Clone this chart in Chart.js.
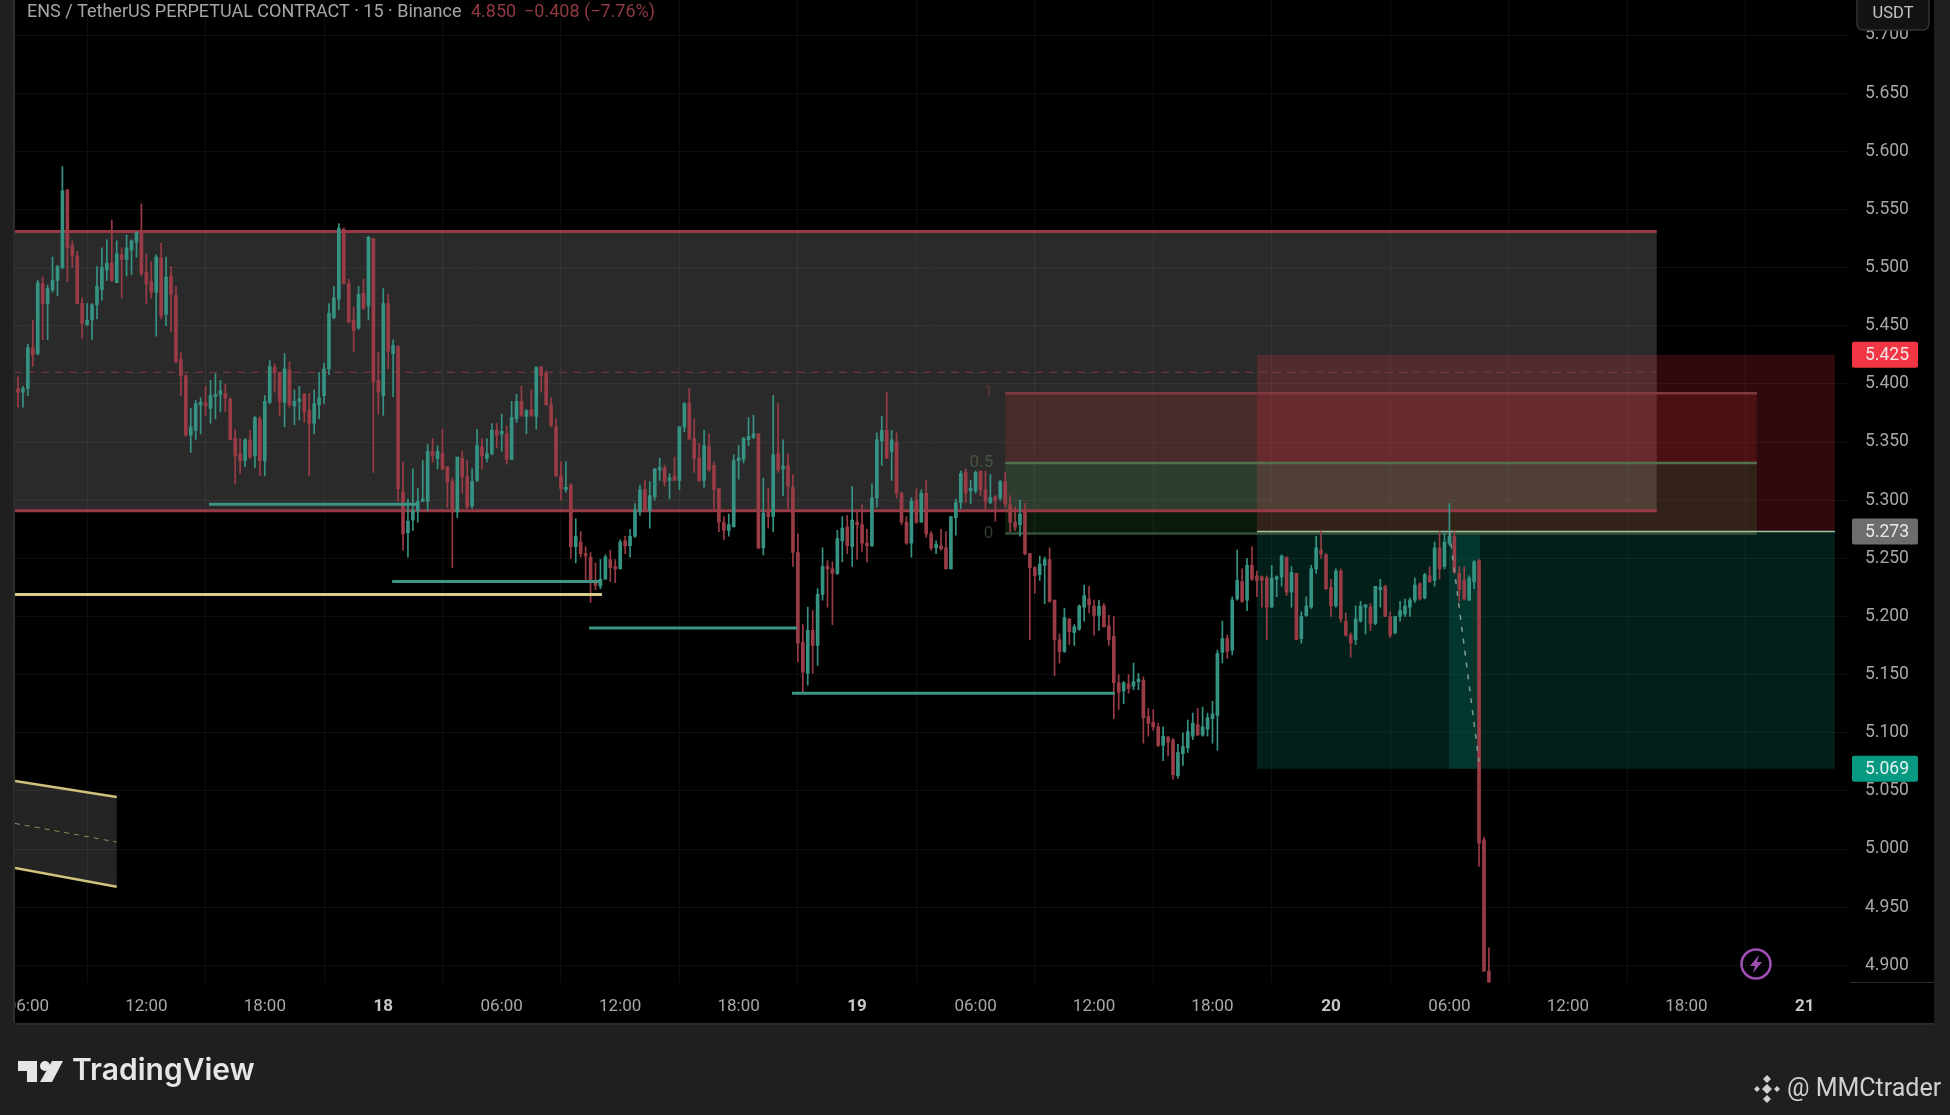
<!DOCTYPE html>
<html>
    <head>
        <meta charset="utf-8">
        <title>ENS / TetherUS PERPETUAL CONTRACT</title>
        <script src="https://cdn.jsdelivr.net/npm/chart.js"></script>
        <style>
            html, body { margin: 0; padding: 0; background: #1f1f1f; overflow: hidden; }
            canvas { display: block; }
        </style>
    </head>
    <body>
        <canvas id="chart" width="1950" height="1115"></canvas>
        <script>
            // 15 minute candles, bar 0 is 05:30 on the 17th
            const opens = [
                5.396,5.393,5.396,5.431,5.426,5.486,5.469,5.481,5.489,5.500,
                5.567,5.519,5.510,5.469,5.451,5.455,5.468,5.481,5.498,5.504,
                5.487,5.511,5.507,5.515,5.522,5.530,5.496,5.488,5.479,5.508,
                5.460,5.493,5.476,5.421,5.407,5.356,5.360,5.382,5.384,5.379,
                5.389,5.391,5.392,5.387,5.353,5.340,5.334,5.352,5.338,5.370,
                5.334,5.384,5.414,5.410,5.384,5.412,5.381,5.385,5.391,5.377,
                5.366,5.382,5.390,5.413,5.457,5.473,5.533,5.486,5.455,5.448,
                5.478,5.467,5.525,5.403,5.390,5.469,5.426,5.432,5.307,5.272,
                5.283,5.291,5.299,5.299,5.342,5.336,5.340,5.329,5.316,5.290,
                5.336,5.320,5.295,5.317,5.346,5.336,5.340,5.360,5.357,5.357,
                5.335,5.370,5.385,5.372,5.378,5.372,5.415,5.409,5.382,5.363,
                5.321,5.309,5.313,5.260,5.264,5.254,5.251,5.230,5.226,5.232,
                5.249,5.243,5.241,5.265,5.261,5.269,5.290,5.309,5.291,5.303,
                5.326,5.328,5.317,5.321,5.317,5.363,5.383,5.353,5.336,5.317,
                5.346,5.330,5.310,5.281,5.274,5.277,5.334,5.335,5.352,5.354,
                5.357,5.259,5.290,5.286,5.340,5.327,5.330,5.311,5.255,5.178,
                5.151,5.188,5.175,5.219,5.243,5.241,5.237,5.265,5.277,5.260,
                5.281,5.279,5.263,5.261,5.302,5.351,5.360,5.342,5.350,5.306,
                5.281,5.263,5.300,5.281,5.306,5.271,5.259,5.261,5.259,5.241,
                5.285,5.298,5.324,5.308,5.308,5.325,5.309,5.298,5.303,5.302,
                5.316,5.296,5.281,5.279,5.290,5.254,5.242,5.236,5.244,5.249,
                5.214,5.180,5.170,5.198,5.186,5.189,5.208,5.215,5.209,5.201,
                5.209,5.192,5.183,5.143,5.136,5.142,5.140,5.144,5.145,5.114,
                5.109,5.105,5.089,5.096,5.094,5.063,5.082,5.087,5.097,5.107,
                5.098,5.103,5.112,5.115,5.169,5.181,5.171,5.215,5.230,5.214,
                5.244,5.235,5.234,5.233,5.208,5.232,5.234,5.251,5.221,5.237,
                5.181,5.201,5.208,5.241,5.257,5.253,5.225,5.209,5.239,5.196,
                5.184,5.180,5.196,5.208,5.208,5.194,5.223,5.226,5.200,5.186,
                5.200,5.202,5.208,5.214,5.228,5.216,5.235,5.231,5.259,5.243,
                5.263,5.269,5.237,5.231,5.214,5.230,5.248,5.008,4.895
            ];
            const closes = [
                5.393,5.396,5.431,5.425,5.487,5.469,5.482,5.489,5.501,5.566,
                5.517,5.510,5.469,5.452,5.455,5.468,5.484,5.500,5.504,5.489,
                5.512,5.507,5.517,5.523,5.530,5.495,5.486,5.479,5.509,5.459,
                5.492,5.477,5.419,5.407,5.356,5.363,5.383,5.384,5.381,5.390,
                5.390,5.394,5.388,5.352,5.338,5.334,5.352,5.337,5.371,5.334,
                5.385,5.415,5.410,5.385,5.413,5.382,5.385,5.386,5.376,5.366,
                5.383,5.388,5.413,5.461,5.474,5.534,5.486,5.453,5.446,5.477,
                5.465,5.526,5.402,5.393,5.469,5.428,5.433,5.310,5.271,5.282,
                5.291,5.299,5.300,5.342,5.338,5.342,5.327,5.316,5.290,5.337,
                5.320,5.294,5.316,5.347,5.338,5.340,5.360,5.356,5.357,5.335,
                5.371,5.385,5.373,5.377,5.373,5.414,5.407,5.382,5.364,5.321,
                5.310,5.311,5.260,5.269,5.254,5.252,5.229,5.227,5.232,5.251,
                5.242,5.241,5.264,5.261,5.269,5.292,5.309,5.292,5.304,5.327,
                5.327,5.316,5.319,5.317,5.363,5.383,5.353,5.336,5.317,5.347,
                5.326,5.309,5.281,5.274,5.279,5.334,5.336,5.353,5.355,5.357,
                5.259,5.289,5.286,5.339,5.326,5.329,5.312,5.255,5.177,5.152,
                5.188,5.175,5.219,5.243,5.241,5.237,5.267,5.276,5.261,5.283,
                5.279,5.263,5.261,5.302,5.352,5.360,5.336,5.352,5.306,5.281,
                5.263,5.299,5.281,5.306,5.271,5.259,5.262,5.258,5.241,5.286,
                5.298,5.323,5.306,5.309,5.324,5.309,5.299,5.302,5.300,5.316,
                5.297,5.281,5.277,5.288,5.254,5.242,5.235,5.245,5.249,5.213,
                5.180,5.170,5.199,5.187,5.191,5.209,5.218,5.210,5.201,5.209,
                5.191,5.180,5.143,5.135,5.143,5.138,5.144,5.145,5.113,5.108,
                5.105,5.089,5.097,5.092,5.064,5.083,5.088,5.101,5.108,5.098,
                5.105,5.113,5.116,5.168,5.181,5.170,5.214,5.231,5.213,5.244,
                5.232,5.231,5.231,5.208,5.233,5.234,5.252,5.221,5.238,5.180,
                5.200,5.209,5.241,5.259,5.254,5.224,5.209,5.239,5.198,5.184,
                5.177,5.198,5.209,5.208,5.194,5.226,5.225,5.200,5.184,5.200,
                5.205,5.209,5.214,5.227,5.215,5.236,5.230,5.259,5.241,5.264,
                5.269,5.238,5.223,5.215,5.233,5.247,5.005,4.895,4.850
            ];
            const highs = [
                5.406,5.398,5.434,5.455,5.489,5.492,5.485,5.509,5.502,5.587,
                5.567,5.523,5.514,5.474,5.469,5.469,5.501,5.517,5.524,5.541,
                5.523,5.517,5.528,5.524,5.531,5.555,5.512,5.505,5.511,5.521,
                5.509,5.501,5.484,5.427,5.408,5.379,5.386,5.388,5.398,5.403,
                5.409,5.403,5.400,5.388,5.361,5.353,5.353,5.360,5.372,5.372,
                5.390,5.420,5.417,5.410,5.426,5.419,5.395,5.398,5.392,5.392,
                5.395,5.410,5.418,5.469,5.484,5.538,5.534,5.490,5.466,5.484,
                5.490,5.527,5.525,5.427,5.482,5.477,5.438,5.433,5.333,5.301,
                5.327,5.310,5.334,5.348,5.353,5.347,5.361,5.329,5.319,5.337,
                5.342,5.334,5.327,5.361,5.353,5.353,5.366,5.366,5.374,5.364,
                5.385,5.391,5.398,5.378,5.395,5.415,5.415,5.411,5.388,5.370,
                5.333,5.333,5.314,5.284,5.273,5.260,5.255,5.246,5.249,5.253,
                5.257,5.249,5.266,5.269,5.275,5.297,5.313,5.317,5.316,5.327,
                5.336,5.330,5.323,5.337,5.363,5.384,5.396,5.370,5.349,5.360,
                5.357,5.333,5.310,5.286,5.288,5.339,5.347,5.354,5.371,5.373,
                5.357,5.319,5.310,5.390,5.383,5.352,5.340,5.322,5.271,5.193,
                5.208,5.205,5.224,5.259,5.248,5.247,5.274,5.286,5.287,5.312,
                5.292,5.296,5.275,5.314,5.358,5.372,5.393,5.360,5.358,5.307,
                5.286,5.302,5.310,5.309,5.317,5.273,5.265,5.275,5.273,5.286,
                5.301,5.325,5.327,5.317,5.325,5.325,5.325,5.322,5.304,5.317,
                5.324,5.304,5.294,5.300,5.297,5.254,5.243,5.252,5.251,5.259,
                5.214,5.185,5.207,5.198,5.193,5.210,5.227,5.226,5.214,5.214,
                5.211,5.201,5.200,5.150,5.144,5.150,5.160,5.151,5.148,5.121,
                5.120,5.108,5.105,5.097,5.095,5.090,5.100,5.111,5.117,5.121,
                5.122,5.117,5.127,5.171,5.196,5.184,5.217,5.257,5.241,5.250,
                5.260,5.239,5.235,5.235,5.244,5.235,5.253,5.251,5.243,5.237,
                5.204,5.217,5.244,5.269,5.274,5.254,5.232,5.241,5.241,5.203,
                5.186,5.209,5.213,5.208,5.211,5.226,5.232,5.227,5.204,5.200,
                5.213,5.215,5.216,5.233,5.229,5.237,5.243,5.264,5.273,5.273,
                5.297,5.273,5.243,5.243,5.235,5.248,5.249,5.010,4.915
            ];
            const lows = [
                5.380,5.380,5.390,5.415,5.425,5.438,5.438,5.479,5.476,5.499,
                5.488,5.500,5.469,5.439,5.450,5.438,5.456,5.472,5.489,5.488,
                5.487,5.474,5.493,5.494,5.509,5.493,5.469,5.474,5.441,5.456,
                5.450,5.445,5.418,5.390,5.355,5.341,5.352,5.357,5.373,5.366,
                5.370,5.376,5.376,5.352,5.314,5.323,5.329,5.336,5.328,5.321,
                5.321,5.383,5.393,5.373,5.363,5.380,5.365,5.369,5.367,5.321,
                5.357,5.370,5.383,5.408,5.456,5.464,5.486,5.453,5.428,5.447,
                5.464,5.455,5.324,5.374,5.373,5.413,5.389,5.299,5.257,5.251,
                5.274,5.281,5.299,5.291,5.333,5.327,5.326,5.294,5.242,5.285,
                5.306,5.293,5.293,5.316,5.327,5.333,5.339,5.345,5.342,5.331,
                5.335,5.367,5.372,5.357,5.372,5.361,5.393,5.382,5.363,5.320,
                5.300,5.307,5.250,5.246,5.251,5.231,5.212,5.223,5.224,5.232,
                5.230,5.229,5.241,5.254,5.251,5.268,5.287,5.290,5.276,5.300,
                5.317,5.312,5.301,5.317,5.309,5.359,5.352,5.324,5.316,5.311,
                5.325,5.291,5.273,5.266,5.269,5.277,5.318,5.332,5.347,5.353,
                5.258,5.253,5.276,5.273,5.324,5.304,5.293,5.243,5.161,5.134,
                5.141,5.151,5.158,5.214,5.208,5.193,5.236,5.247,5.254,5.243,
                5.249,5.256,5.247,5.260,5.294,5.330,5.336,5.317,5.302,5.279,
                5.262,5.251,5.280,5.281,5.268,5.257,5.254,5.257,5.241,5.241,
                5.270,5.293,5.298,5.297,5.306,5.304,5.292,5.297,5.282,5.300,
                5.294,5.273,5.274,5.269,5.253,5.180,5.220,5.231,5.211,5.212,
                5.149,5.160,5.169,5.176,5.175,5.188,5.196,5.203,5.184,5.188,
                5.191,5.175,5.112,5.120,5.125,5.134,5.137,5.137,5.091,5.097,
                5.102,5.088,5.076,5.080,5.060,5.061,5.072,5.083,5.094,5.098,
                5.097,5.097,5.091,5.085,5.160,5.164,5.167,5.214,5.212,5.205,
                5.231,5.217,5.208,5.180,5.208,5.217,5.226,5.218,5.208,5.180,
                5.177,5.200,5.207,5.237,5.250,5.223,5.200,5.208,5.195,5.183,
                5.165,5.176,5.195,5.185,5.188,5.193,5.208,5.200,5.182,5.185,
                5.196,5.200,5.200,5.212,5.214,5.215,5.229,5.226,5.232,5.241,
                5.261,5.237,5.213,5.214,5.214,5.224,4.985,4.895,4.850
            ];

            const xTicks = [2, 26, 50, 74, 98, 122, 146, 170, 194, 218, 242, 266, 290, 314, 338, 362];
            const xTickLabels = ['06:00', '12:00', '18:00', '18', '06:00', '12:00', '18:00', '19', '06:00', '12:00', '18:00', '20', '06:00', '12:00', '18:00', '21'];
            const yTicks = [4.9, 4.95, 5.0, 5.05, 5.1, 5.15, 5.2, 5.25, 5.3, 5.35, 5.4, 5.45, 5.5, 5.55, 5.6, 5.65, 5.7];

            // drawings on the chart, in bars and prices
            const rangeZone = [-1, 332, 5.531, 5.291];
            const rangeMidPrice = 5.410;
            const fibZone = [200, 352.3, 5.392, 5.332, 5.2713];
            const positionZone = [251, 368.1, 5.425, 5.273, 5.069];
            const tradeZone = [289.9, 296.2];
            const tradePath = [[290, 5.273], [296, 5.075]];
            const yellowLine = [-1, 118.3, 5.219];
            const tealLevels = [[38.7, 80.8, 5.2965], [75.8, 118.3, 5.2301], [115.7, 157.8, 5.190], [156.8, 222.2, 5.134]];
            const channelTop = [[-0.6, 5.0585], [20, 5.0447]];
            const channelMid = [[-0.6, 5.022], [20, 5.006]];
            const channelBottom = [[-0.6, 4.9837], [20, 4.9675]];
            const priceTags = [[5.425, '#f23645', '#f4e6e6'], [5.273, '#6d6d6d', '#e8e8e8'], [5.069, '#089981', '#e4f4f0']];

            const GREEN = '#369384';
            const RED = '#9a3c46';
            const barColors = closes.map((c, i) => c >= opens[i] ? GREEN : RED);
            const isDayTick = i => (xTickLabels[i] || '').length === 2;

            // chart area has to reach the edges, labels may stick out
            function noScalePadding(scale) {
                scale.paddingLeft = 0;
                scale.paddingRight = 0;
                scale.paddingTop = 0;
                scale.paddingBottom = 0;
            }

            function box(ctx, x, y, fromBar, toBar, top, bottom, color) {
                ctx.fillStyle = color;
                ctx.fillRect(x.getPixelForValue(fromBar), y.getPixelForValue(top),
                    x.getPixelForValue(toBar) - x.getPixelForValue(fromBar),
                    y.getPixelForValue(bottom) - y.getPixelForValue(top));
            }

            function line(ctx, x, y, p0, p1, color, width, dash) {
                ctx.strokeStyle = color;
                ctx.lineWidth = width;
                ctx.setLineDash(dash || []);
                ctx.beginPath();
                ctx.moveTo(x.getPixelForValue(p0[0]), y.getPixelForValue(p0[1]));
                ctx.lineTo(x.getPixelForValue(p1[0]), y.getPixelForValue(p1[1]));
                ctx.stroke();
                ctx.setLineDash([]);
            }

            const drawings = {
                id: 'drawings',
                beforeDraw(chart) {
                    const ctx = chart.ctx;
                    ctx.fillStyle = '#1f1f1f';
                    ctx.fillRect(0, 0, 1950, 1115);
                    ctx.fillStyle = '#000000';
                    ctx.fillRect(15, 0, 1919, 1023);
                },
                beforeDatasetsDraw(chart) {
                    const ctx = chart.ctx;
                    const x = chart.scales.x;
                    const y = chart.scales.y;
                    const a = chart.chartArea;
                    ctx.save();
                    ctx.beginPath();
                    ctx.rect(a.left, a.top, a.right - a.left, a.bottom - a.top);
                    ctx.clip();

                    // range box
                    box(ctx, x, y, rangeZone[0], rangeZone[1], rangeZone[2], rangeZone[3], 'rgba(255,255,255,0.165)');

                    // short position
                    const [pFrom, pTo, pStop, pEntry, pTarget] = positionZone;
                    box(ctx, x, y, pFrom, pTo, pStop, pEntry, 'rgba(242,54,69,0.19)');
                    box(ctx, x, y, pFrom, pTo, pEntry, pTarget, 'rgba(8,153,129,0.2)');
                    box(ctx, x, y, tradeZone[0], tradeZone[1], pEntry, pTarget, 'rgba(8,153,129,0.2)');

                    // fib box
                    const [fFrom, fTo, f1, f05, f0] = fibZone;
                    box(ctx, x, y, fFrom, fTo, f1, f05, 'rgba(200,42,44,0.19)');
                    box(ctx, x, y, fFrom, fTo, f05, f0, 'rgba(76,175,80,0.15)');
                    line(ctx, x, y, [fFrom, f1], [fTo, f1], '#7e3a40', 2.5);
                    line(ctx, x, y, [fFrom, f05], [fTo, f05], '#55704c', 2.5);
                    line(ctx, x, y, [fFrom, f0], [fTo, f0], '#36503a', 2.5);

                    // range lines
                    line(ctx, x, y, [rangeZone[0], rangeZone[2]], [rangeZone[1], rangeZone[2]], '#983a46', 3);
                    line(ctx, x, y, [rangeZone[0], rangeZone[3]], [rangeZone[1], rangeZone[3]], '#983a46', 3);
                    line(ctx, x, y, [rangeZone[0], rangeMidPrice], [rangeZone[1], rangeMidPrice], '#7d3a40', 1, [8, 6]);

                    line(ctx, x, y, [pFrom, pEntry], [pTo, pEntry], '#9fc4a0', 1.5);

                    // channel bottom left
                    ctx.fillStyle = 'rgba(255,255,255,0.14)';
                    ctx.beginPath();
                    [channelTop[0], channelTop[1], channelBottom[1], channelBottom[0]].forEach(p => {
                        ctx.lineTo(x.getPixelForValue(p[0]), y.getPixelForValue(p[1]));
                    });
                    ctx.fill();
                    line(ctx, x, y, channelTop[0], channelTop[1], '#cfc37e', 2.5);
                    line(ctx, x, y, channelBottom[0], channelBottom[1], '#cfc37e', 2.5);
                    line(ctx, x, y, channelMid[0], channelMid[1], '#8f8a5a', 1, [5, 5]);

                    // fib labels
                    ctx.font = '17px Roboto';
                    ctx.textAlign = 'right';
                    ctx.textBaseline = 'middle';
                    ctx.fillStyle = '#5a3434';
                    ctx.fillText('1', x.getPixelForValue(fFrom) - 12, y.getPixelForValue(f1));
                    ctx.fillStyle = '#475441';
                    ctx.fillText('0.5', x.getPixelForValue(fFrom) - 12, y.getPixelForValue(f05));
                    ctx.fillStyle = '#2f3d2c';
                    ctx.fillText('0', x.getPixelForValue(fFrom) - 12, y.getPixelForValue(f0));
                    ctx.restore();
                },
                afterDatasetsDraw(chart) {
                    const ctx = chart.ctx;
                    const x = chart.scales.x;
                    const y = chart.scales.y;
                    tealLevels.forEach(l => line(ctx, x, y, [l[0], l[2]], [l[1], l[2]], '#3e9485', 3));
                    line(ctx, x, y, [yellowLine[0], yellowLine[2]], [yellowLine[1], yellowLine[2]], '#d8cd8c', 3);
                    line(ctx, x, y, tradePath[0], tradePath[1], '#7f9a94', 1.5, [5, 7]);
                },
                afterDraw(chart) {
                    const ctx = chart.ctx;
                    const y = chart.scales.y;

                    // left strip hides the cut part of the first label
                    ctx.fillStyle = '#1f1f1f';
                    ctx.fillRect(0, 0, 15, 1115);
                    ctx.fillStyle = '#2c2c2c';
                    ctx.fillRect(13, 0, 2, 1023);
                    ctx.fillRect(15, 1023, 1919, 2);
                    ctx.fillRect(1850, 982, 84, 1);

                    // header
                    ctx.textBaseline = 'middle';
                    ctx.textAlign = 'left';
                    ctx.font = '18px Roboto';
                    ctx.fillStyle = '#a6a6a6';
                    ctx.fillText('ENS / TetherUS PERPETUAL CONTRACT · 15 · Binance', 27, 12);
                    ctx.fillStyle = '#8f3a42';
                    ctx.fillText('4.850', 471, 12);
                    ctx.fillText('−0.408 (−7.76%)', 524, 12);

                    // currency button
                    ctx.fillStyle = '#131313';
                    ctx.strokeStyle = '#333333';
                    ctx.lineWidth = 1.5;
                    ctx.beginPath();
                    ctx.roundRect(1857, -8, 72, 38, 6);
                    ctx.fill();
                    ctx.stroke();
                    ctx.fillStyle = '#c4c4c4';
                    ctx.font = '16.5px Roboto';
                    ctx.textAlign = 'center';
                    ctx.fillText('USDT', 1893, 14);

                    // price tags
                    ctx.font = '17.5px Roboto';
                    priceTags.forEach(t => {
                        const py = y.getPixelForValue(t[0]);
                        ctx.fillStyle = t[1];
                        ctx.beginPath();
                        ctx.roundRect(1852, py - 13, 66, 26, 2);
                        ctx.fill();
                        ctx.fillStyle = t[2];
                        ctx.fillText(t[0].toFixed(3), 1887, py + 1);
                    });

                    // lightning badge
                    ctx.strokeStyle = '#a04fb3';
                    ctx.lineWidth = 2.5;
                    ctx.beginPath();
                    ctx.arc(1756, 964, 14.5, 0, Math.PI * 2);
                    ctx.stroke();
                    ctx.fillStyle = '#a04fb3';
                    ctx.beginPath();
                    ctx.moveTo(1759, 955);
                    ctx.lineTo(1750, 966);
                    ctx.lineTo(1755, 966);
                    ctx.lineTo(1753, 973);
                    ctx.lineTo(1762, 962);
                    ctx.lineTo(1757, 962);
                    ctx.closePath();
                    ctx.fill();

                    // TradingView logo
                    ctx.fillStyle = '#e6e6e6';
                    ctx.beginPath();
                    ctx.moveTo(18, 1061);
                    ctx.lineTo(37, 1061);
                    ctx.lineTo(37, 1082);
                    ctx.lineTo(27, 1082);
                    ctx.lineTo(27, 1071);
                    ctx.lineTo(18, 1071);
                    ctx.closePath();
                    ctx.fill();
                    ctx.beginPath();
                    ctx.arc(45, 1066, 5, 0, Math.PI * 2);
                    ctx.fill();
                    ctx.beginPath();
                    ctx.moveTo(52, 1061);
                    ctx.lineTo(63, 1061);
                    ctx.lineTo(52, 1082);
                    ctx.lineTo(40, 1082);
                    ctx.closePath();
                    ctx.fill();
                    ctx.font = '600 30px Inter';
                    ctx.textAlign = 'left';
                    ctx.fillText('TradingView', 72, 1071);

                    // Binance square credit
                    ctx.fillStyle = '#d0d0d0';
                    [[1767, 1089, 5], [1767, 1079, 4], [1767, 1099, 4], [1757, 1089, 3], [1777, 1089, 3]].forEach(d => {
                        ctx.beginPath();
                        ctx.moveTo(d[0], d[1] - d[2]);
                        ctx.lineTo(d[0] + d[2], d[1]);
                        ctx.lineTo(d[0], d[1] + d[2]);
                        ctx.lineTo(d[0] - d[2], d[1]);
                        ctx.closePath();
                        ctx.fill();
                    });
                    ctx.font = '25px Roboto';
                    ctx.fillText('@ MMCtrader', 1787, 1090);
                }
            };

            new Chart(document.getElementById('chart').getContext('2d'), {
                type: 'bar',
                data: {
                    datasets: [
                        {
                            label: 'wicks',
                            data: highs.map((h, i) => ({ x: i, y: [lows[i], h] })),
                            backgroundColor: barColors,
                            barThickness: 1,
                            minBarLength: 1,
                            grouped: false,
                            order: 2
                        },
                        {
                            label: 'bodies',
                            data: opens.map((o, i) => ({ x: i, y: [o, closes[i]] })),
                            backgroundColor: barColors,
                            barThickness: 3,
                            minBarLength: 2.5,
                            grouped: false,
                            order: 1
                        }
                    ]
                },
                options: {
                    responsive: false,
                    animation: false,
                    devicePixelRatio: 1,
                    layout: { padding: { left: 15, right: 16, top: 0, bottom: 92 } },
                    plugins: { legend: { display: false }, tooltip: { enabled: false } },
                    scales: {
                        x: {
                            type: 'linear',
                            min: -0.608,
                            max: 370.75,
                            offset: false,
                            afterBuildTicks: scale => { scale.ticks = xTicks.map(v => ({ value: v })); },
                            afterFit: scale => { scale.height = 40.5; noScalePadding(scale); },
                            border: { display: false },
                            grid: { color: 'rgba(255,255,255,0.05)', drawTicks: false },
                            ticks: {
                                autoSkip: false,
                                maxRotation: 0,
                                padding: 14,
                                color: ctx => isDayTick(ctx.index) ? '#c8c8c8' : '#a8a8a8',
                                font: ctx => ({ family: 'Roboto', size: 17, weight: isDayTick(ctx.index) ? '700' : '400' }),
                                callback: (value, index) => xTickLabels[index]
                            }
                        },
                        y: {
                            position: 'right',
                            min: 4.8852,
                            max: 5.7302,
                            afterBuildTicks: scale => { scale.ticks = yTicks.map(v => ({ value: v })); },
                            afterFit: scale => { scale.width = 86; noScalePadding(scale); },
                            border: { display: false },
                            grid: { color: 'rgba(255,255,255,0.05)', drawTicks: false },
                            ticks: {
                                autoSkip: false,
                                padding: 17,
                                color: '#a8a8a8',
                                font: { family: 'Roboto', size: 17.5 },
                                callback: value => value.toFixed(3)
                            }
                        }
                    }
                },
                plugins: [drawings]
            });
        </script>
    </body>
</html>
